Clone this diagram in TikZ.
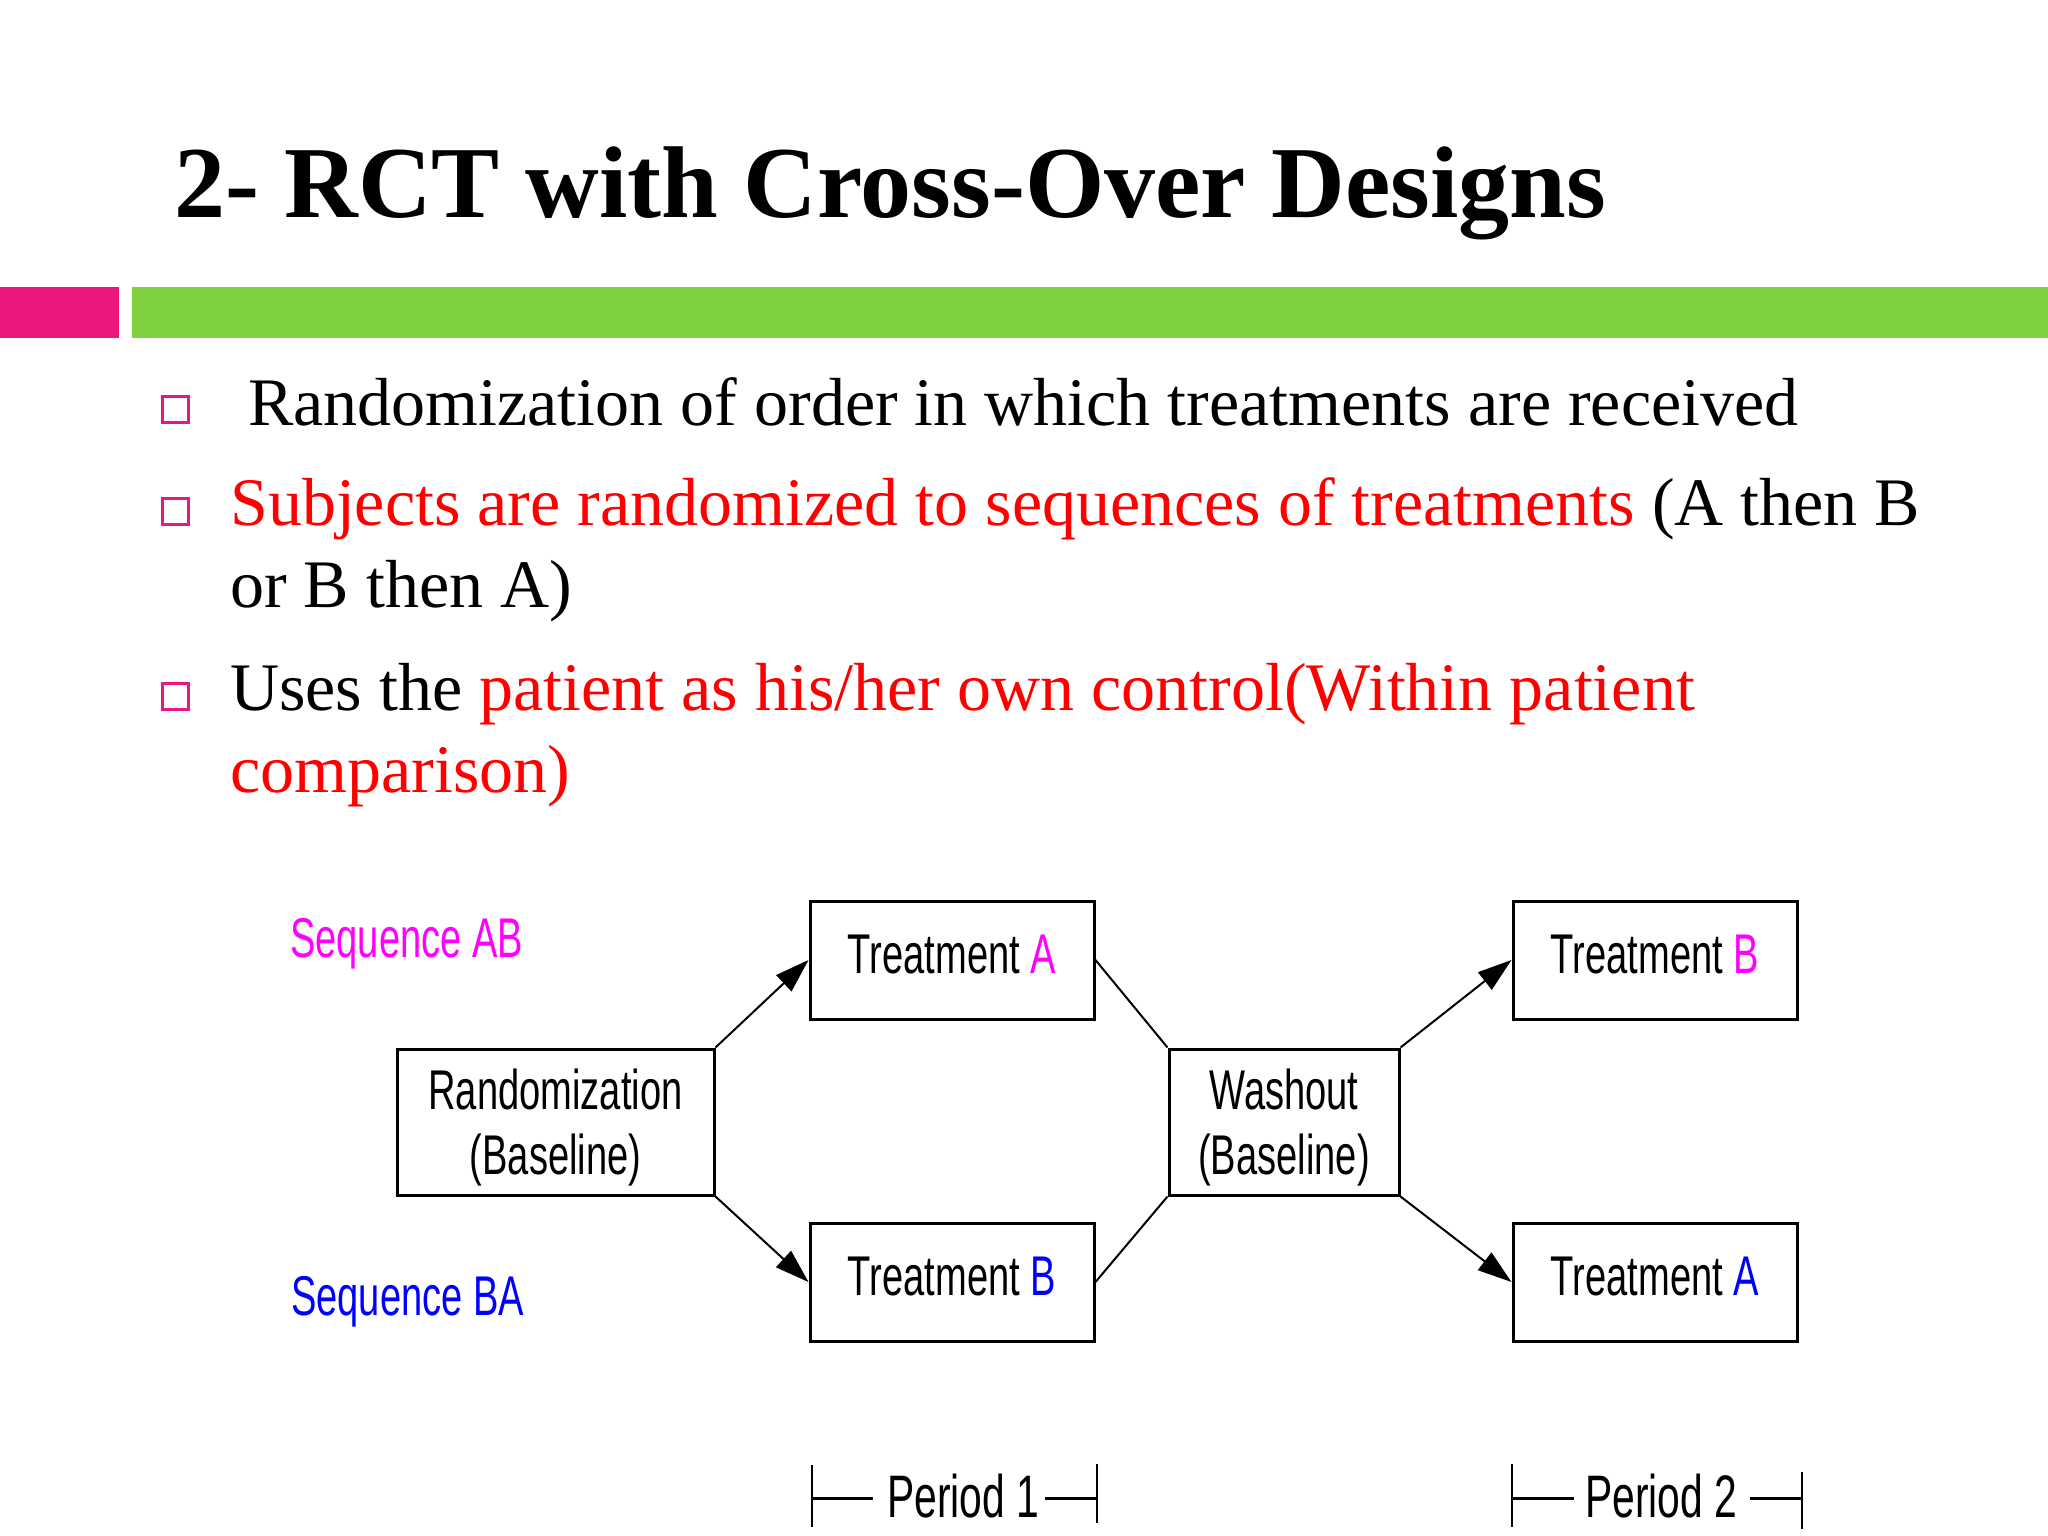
\documentclass[tikz,border=0pt]{standalone}
\usepackage{fontspec}
\setmainfont{Liberation Serif}
\newfontfamily\diagfont[FakeStretch=0.68]{Liberation Sans}
\usetikzlibrary{arrows.meta}
\definecolor{barpink}{RGB}{233,24,122}
\definecolor{bargreen}{RGB}{127,209,64}
\definecolor{seqmag}{RGB}{255,0,255}
\definecolor{seqblue}{RGB}{0,0,255}
\definecolor{txtred}{RGB}{255,0,0}
\newcommand{\topstrut}{\rule{0pt}{52pt}}
\begin{document}
\begin{tikzpicture}[x=1pt,y=-1pt,
  titletext/.style={anchor=base west, inner sep=0pt, font=\bfseries\fontsize{102pt}{110pt}\selectfont},
  body/.style={anchor=base west, inner sep=0pt, font=\fontsize{68pt}{82pt}\selectfont},
  bulletbox/.style={draw=barpink, line width=3pt, minimum size=26pt, inner sep=0pt},
  diagbox/.style={draw, line width=3pt, inner sep=0pt, align=center, font=\diagfont\fontsize{56pt}{65pt}\selectfont},
  treatbox/.style={diagbox, minimum width=284pt, minimum height=118pt, text height=41pt, text depth=15pt},
  basebox/.style={diagbox, minimum height=146pt},
  lbl/.style={anchor=base west, inner sep=0pt, font=\diagfont\fontsize{56pt}{65pt}\selectfont},
  periodlbl/.style={anchor=base west, inner sep=0pt, font=\diagfont\fontsize{60pt}{65pt}\selectfont},
  conn/.style={line width=2pt},
  arr/.style={conn, -{Triangle[length=34pt,width=22pt]}},
  vtick/.style={line width=2pt},
  hrule/.style={line width=3pt}
]
\useasboundingbox (0,0) rectangle (2048,1536);
\fill[white] (0,0) rectangle (2048,1536);

% title and bars
\node[titletext] (title) at (174,217) {2- RCT with Cross-Over Designs};
\fill[barpink] (0,287) rectangle (119,338);
\fill[bargreen] (132,287) rectangle (2048,338);

% bullets
\node[bulletbox] (b1) at (175.5,409) {};
\node[bulletbox] (b2) at (175.5,511) {};
\node[bulletbox] (b3) at (175.5,696) {};

\node[body] (l1) at (248,425) {Randomization of order in which treatments are received};
\node[body] (l2) at (230,525) {\textcolor{txtred}{Subjects are randomized to sequences of treatments} (A then B};
\node[body] (l3) at (230,607) {or B then A)};
\node[body] (l4) at (230,710) {Uses the \textcolor{txtred}{patient as his/her own control(Within patient}};
\node[body] (l5) at (230,792) {\textcolor{txtred}{comparison)}};

% diagram
\node[lbl, text=seqmag] (sab) at (290,957) {Sequence AB};
\node[lbl, text=seqblue] (sba) at (291,1315) {Sequence BA};

\node[basebox, minimum width=317pt] (rand) at (555.5,1122) {\topstrut Randomization\\(Baseline)};
\node[treatbox] (ta) at (952,960) {Treatment \textcolor{seqmag}{A}};
\node[treatbox] (tb) at (952,1282) {Treatment \textcolor{seqblue}{B}};
\node[basebox, minimum width=230pt] (wash) at (1284,1122) {\topstrut Washout\\(Baseline)};
\node[treatbox] (tb2) at (1655,960) {Treatment \textcolor{seqmag}{B}};
\node[treatbox] (ta2) at (1655,1282) {Treatment \textcolor{seqblue}{A}};

\draw[arr] (rand.north east) -- (ta.west);
\draw[arr] (rand.south east) -- (tb.west);
\draw[conn] (ta.east) -- (wash.north west);
\draw[conn] (tb.east) -- (wash.south west);
\draw[arr] (wash.north east) -- (tb2.west);
\draw[arr] (wash.south east) -- (ta2.west);

% periods
\node[periodlbl] (p1) at (887,1517) {Period 1};
\coordinate (p1a) at (812,1465);
\coordinate (p1b) at (812,1527);
\coordinate (p1c) at (812,1498);
\coordinate (p1d) at (873,1498);
\coordinate (p1e) at (1045,1498);
\coordinate (p1f) at (1097,1498);
\coordinate (p1g) at (1097,1464);
\coordinate (p1h) at (1097,1523);
\draw[vtick] (p1a) -- (p1b);
\draw[hrule] (p1c) -- (p1d);
\draw[hrule] (p1e) -- (p1f);
\draw[vtick] (p1g) -- (p1h);

\node[periodlbl] (p2) at (1585,1517) {Period 2};
\coordinate (p2a) at (1512,1464);
\coordinate (p2b) at (1512,1527);
\coordinate (p2c) at (1512,1498);
\coordinate (p2d) at (1574,1498);
\coordinate (p2e) at (1750,1498);
\coordinate (p2f) at (1802,1498);
\coordinate (p2g) at (1802,1472);
\coordinate (p2h) at (1802,1529);
\draw[vtick] (p2a) -- (p2b);
\draw[hrule] (p2c) -- (p2d);
\draw[hrule] (p2e) -- (p2f);
\draw[vtick] (p2g) -- (p2h);
\end{tikzpicture}
\end{document}
